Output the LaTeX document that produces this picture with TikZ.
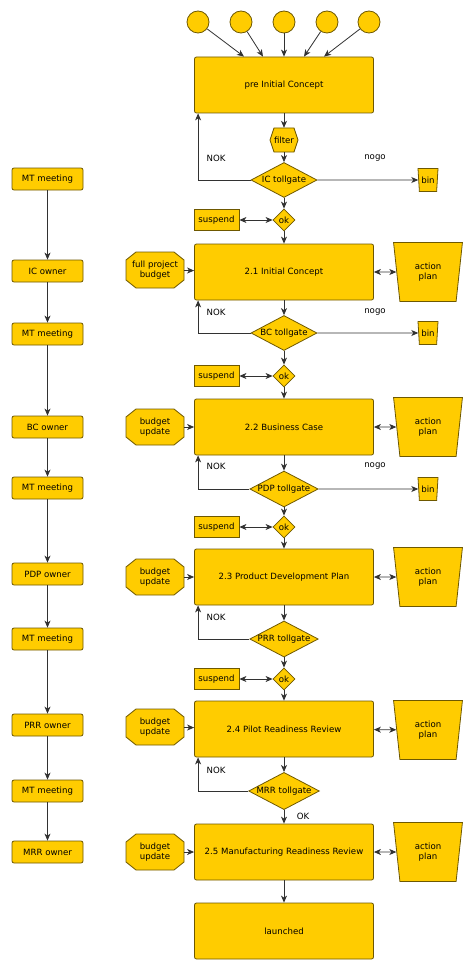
\documentclass[tikz,border=0pt]{standalone}
\usepackage{fontspec}
\setmainfont{DejaVu Sans}
\usetikzlibrary{shapes.geometric,arrows.meta,calc}
\definecolor{fillY}{RGB}{255,204,0}
\definecolor{edgeY}{RGB}{110,88,0}
\definecolor{lineC}{RGB}{50,50,50}
\newcommand\octnode[4]{%
  \filldraw[shapeline] (#2,#3) ++(-29,-10) -- ++(10,-8) -- ++(38,0) -- ++(10,8) -- ++(0,20) -- ++(-10,8) -- ++(-38,0) -- ++(-10,-8) -- cycle;
  \node[octa] (#1) at (#2,#3) {#4};}
\newcommand\hexnode[4]{%
  \filldraw[shapeline] (#2,#3) ++(-10,-12) -- ++(20,0) -- ++(4,12) -- ++(-4,12) -- ++(-20,0) -- ++(-4,-12) -- cycle;
  \node[hexa] (#1) at (#2,#3) {#4};}
\begin{document}
\begin{tikzpicture}[x=1pt,y=-1pt,
  font=\fontsize{8.6}{10}\selectfont,
  shapeline/.style={draw=edgeY,fill=fillY,line width=0.8pt},
  base/.style={shapeline,inner sep=1pt,align=center},
  bigbox/.style={base,rectangle,rounded corners=2pt,minimum width=179pt,minimum height=56pt},
  leftbox/.style={base,rectangle,rounded corners=2pt,minimum width=71pt,minimum height=22pt},
  srcircle/.style={base,circle,minimum size=22pt},
  hexa/.style={rectangle,minimum width=28pt,minimum height=24pt,inner sep=0pt},
  tollgate/.style={base,diamond,aspect=1.9,minimum width=66pt,minimum height=35pt,inner sep=0pt},
  okdia/.style={base,diamond,minimum size=22pt,inner sep=0pt},
  suspendbox/.style={base,rectangle,minimum width=45pt,minimum height=21pt},
  binbox/.style={base,trapezium,shape border rotate=180,trapezium stretches=true,trapezium left angle=81,trapezium right angle=81,minimum width=20pt,minimum height=23pt,inner sep=0pt},
  actionbox/.style={base,trapezium,shape border rotate=180,trapezium stretches=true,trapezium left angle=81,trapezium right angle=81,minimum width=69pt,minimum height=59pt},
  octa/.style={rectangle,align=center,minimum width=58pt,minimum height=36pt,inner sep=0pt},
  lbl/.style={inner sep=0pt,text=black},
  arr/.style={draw=lineC,line width=0.8pt,-{Stealth[length=7pt,width=6pt,inset=2pt]}},
  darr/.style={draw=lineC,line width=0.8pt,{Stealth[length=7pt,width=6pt,inset=2pt]}-{Stealth[length=7pt,width=6pt,inset=2pt]}}
]
\useasboundingbox (0,0) rectangle (474,971);

% left column
\node[leftbox] (m1) at (47.5,179) {MT meeting};
\node[leftbox] (o1) at (47.5,271) {IC owner};
\node[leftbox] (m2) at (47.5,334) {MT meeting};
\node[leftbox] (o2) at (47.5,427) {BC owner};
\node[leftbox] (m3) at (47.5,488) {MT meeting};
\node[leftbox] (o3) at (47.5,574) {PDP owner};
\node[leftbox] (m4) at (47.5,639) {MT meeting};
\node[leftbox] (o4) at (47.5,725) {PRR owner};
\node[leftbox] (m5) at (47.5,791) {MT meeting};
\node[leftbox] (o5) at (47.5,852) {MRR owner};
\draw[arr] (m1) -- (o1);
\draw[arr] (o1) -- (m2);
\draw[arr] (m2) -- (o2);
\draw[arr] (o2) -- (m3);
\draw[arr] (m3) -- (o3);
\draw[arr] (o3) -- (m4);
\draw[arr] (m4) -- (o4);
\draw[arr] (o4) -- (m5);
\draw[arr] (m5) -- (o5);

% sources
\node[srcircle] (c1) at (198,22) {};
\node[srcircle] (c2) at (241,22) {};
\node[srcircle] (c3) at (284,22) {};
\node[srcircle] (c4) at (327,22) {};
\node[srcircle] (c5) at (369,22) {};

\node[bigbox] (pre) at (284,85) {pre Initial Concept};
\draw[arr] (c1) -- ([xshift=-40pt]pre.north);
\draw[arr] (c2) -- ([xshift=-21pt]pre.north);
\draw[arr] (c3) -- (pre.north);
\draw[arr] (c4) -- ([xshift=20pt]pre.north);
\draw[arr] (c5) -- ([xshift=40pt]pre.north);

\hexnode{flt}{284}{140}{filter}
\node[tollgate] (t1) at (284,180) {IC tollgate};
\node[binbox] (b1) at (428,180) {bin};
\node[okdia] (k1) at (284,220) {ok};
\node[suspendbox] (s1) at (216.5,220) {suspend};
\node[lbl] (nok1) at (216,158) {NOK};
\node[lbl] (nogo1) at (375,158) {nogo};
\draw[arr] (pre) -- (flt);
\draw[arr] (flt) -- (t1);
\draw[arr] (t1) -- (k1);
\draw[arr] (t1) -- (b1);
\draw[arr] (t1.west) -| ([xshift=4pt]pre.south west);
\draw[darr] (s1) -- (k1);

% 2.1
\node[bigbox] (p1) at (284,272) {2.1 Initial Concept};
\octnode{u1}{155}{270}{full project\\budget}
\node[actionbox] (a1) at (428,272) {action\\plan};
\draw[arr] (k1) -- (p1);
\draw[arr] (u1) -- (p1);
\draw[darr] (p1) -- (a1);
\node[tollgate] (t2) at (284,333) {BC tollgate};
\node[binbox] (b2) at (428,333) {bin};
\node[okdia] (k2) at (284,376) {ok};
\node[suspendbox] (s2) at (216.5,376) {suspend};
\node[lbl] (nok2) at (216,312) {NOK};
\node[lbl] (nogo2) at (375,312) {nogo};
\draw[arr] (p1) -- (t2);
\draw[arr] (t2) -- (k2);
\draw[arr] (t2) -- (b2);
\draw[arr] (t2.west) -| ([xshift=4pt]p1.south west);
\draw[darr] (s2) -- (k2);

% 2.2
\node[bigbox] (p2) at (284,427) {2.2 Business Case};
\octnode{u2}{155}{427}{budget\\update}
\node[actionbox] (a2) at (428,427) {action\\plan};
\draw[arr] (k2) -- (p2);
\draw[arr] (u2) -- (p2);
\draw[darr] (p2) -- (a2);
\node[tollgate] (t3) at (284,489) {PDP tollgate};
\node[binbox] (b3) at (428,489) {bin};
\node[okdia] (k3) at (284,527) {ok};
\node[suspendbox] (s3) at (216.5,527) {suspend};
\node[lbl] (nok3) at (216,466) {NOK};
\node[lbl] (nogo3) at (375,466) {nogo};
\draw[arr] (p2) -- (t3);
\draw[arr] (t3) -- (k3);
\draw[arr] (t3) -- (b3);
\draw[arr] (t3.west) -| ([xshift=4pt]p2.south west);
\draw[darr] (s3) -- (k3);

% 2.3
\node[bigbox] (p3) at (284,577) {2.3 Product Development Plan};
\octnode{u3}{155}{577}{budget\\update}
\node[actionbox] (a3) at (428,577) {action\\plan};
\draw[arr] (k3) -- (p3);
\draw[arr] (u3) -- (p3);
\draw[darr] (p3) -- (a3);
\node[tollgate] (t4) at (284,639) {PRR tollgate};
\node[okdia] (k4) at (284,679) {ok};
\node[suspendbox] (s4) at (216.5,679) {suspend};
\node[lbl] (nok4) at (216,617) {NOK};
\draw[arr] (p3) -- (t4);
\draw[arr] (t4) -- (k4);
\draw[arr] (t4.west) -| ([xshift=4pt]p3.south west);
\draw[darr] (s4) -- (k4);

% 2.4
\node[bigbox] (p4) at (284,729) {2.4 Pilot Readiness Review};
\octnode{u4}{155}{727}{budget\\update}
\node[actionbox] (a4) at (428,730) {action\\plan};
\draw[arr] (k4) -- (p4);
\draw[arr] (u4) -- (p4);
\draw[darr] (p4) -- (a4);
\node[tollgate] (t5) at (284,791) {MRR tollgate};
\node[lbl] (nok5) at (216,770) {NOK};
\node[lbl] (okl) at (303,816) {OK};
\draw[arr] (p4) -- (t5);
\draw[arr] (t5.west) -| ([xshift=4pt]p4.south west);

% 2.5
\node[bigbox] (p5) at (284,852) {2.5 Manufacturing Readiness Review};
\octnode{u5}{155}{852}{budget\\update}
\node[actionbox] (a5) at (428,852) {action\\plan};
\draw[arr] (t5) -- (p5);
\draw[arr] (u5) -- (p5);
\draw[darr] (p5) -- (a5);
\node[bigbox] (lau) at (284,931) {launched};
\draw[arr] (p5) -- (lau);
\end{tikzpicture}
\end{document}
